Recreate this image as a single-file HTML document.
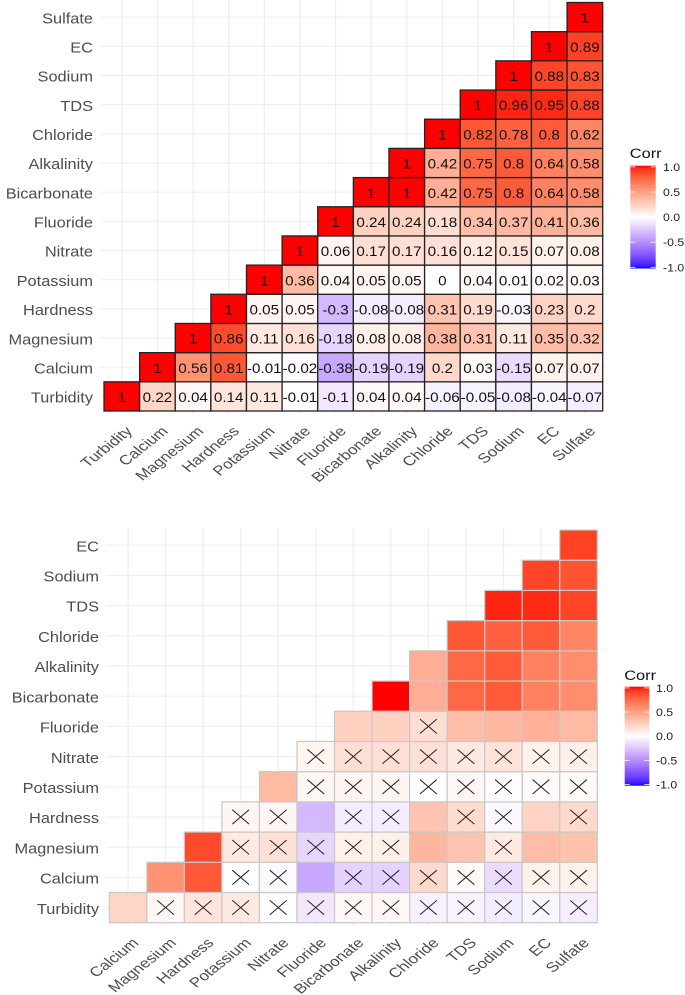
<!DOCTYPE html>
<html lang="en">
<head>
<meta charset="utf-8">
<title>Correlation heatmaps</title>
<style>
html,body{margin:0;padding:0;background:#fff;}
svg{display:block;filter:blur(0.35px);}
text{font-family:"Liberation Sans",sans-serif;}
</style>
</head>
<body>
<svg id="chart" xmlns="http://www.w3.org/2000/svg" width="685" height="995" viewBox="0 0 685 995">
<defs>
<linearGradient id="legend-gradient" x1="0" y1="0" x2="0" y2="1"></linearGradient>
</defs>
</svg>
<script>
// ---- Data ----
const topVariables = ["Turbidity","Calcium","Magnesium","Hardness","Potassium","Nitrate","Fluoride","Bicarbonate","Alkalinity","Chloride","TDS","Sodium","EC","Sulfate"];
const bottomRowVariables = ["Turbidity","Calcium","Magnesium","Hardness","Potassium","Nitrate","Fluoride","Bicarbonate","Alkalinity","Chloride","TDS","Sodium","EC"];
const bottomColVariables = ["Calcium","Magnesium","Hardness","Potassium","Nitrate","Fluoride","Bicarbonate","Alkalinity","Chloride","TDS","Sodium","EC","Sulfate"];
const legendTicks = [1.0,0.5,0.0,-0.5,-1.0];
const legendTickLabels = ["1.0","0.5","0.0","-0.5","-1.0"];

// Upper-triangle correlations: each row starts at its diagonal.
const corrTurbidity = [1,0.22,0.04,0.14,0.11,-0.01,-0.1,0.04,0.04,-0.06,-0.05,-0.08,-0.04,-0.07];
const corrCalcium = [1,0.56,0.81,-0.01,-0.02,-0.38,-0.19,-0.19,0.2,0.03,-0.15,0.07,0.07];
const corrMagnesium = [1,0.86,0.11,0.16,-0.18,0.08,0.08,0.38,0.31,0.11,0.35,0.32];
const corrHardness = [1,0.05,0.05,-0.3,-0.08,-0.08,0.31,0.19,-0.03,0.23,0.2];
const corrPotassium = [1,0.36,0.04,0.05,0.05,0,0.04,0.01,0.02,0.03];
const corrNitrate = [1,0.06,0.17,0.17,0.16,0.12,0.15,0.07,0.08];
const corrFluoride = [1,0.24,0.24,0.18,0.34,0.37,0.41,0.36];
const corrBicarbonate = [1,1,0.42,0.75,0.8,0.64,0.58];
const corrAlkalinity = [1,0.42,0.75,0.8,0.64,0.58];
const corrChloride = [1,0.82,0.78,0.8,0.62];
const corrTDS = [1,0.96,0.95,0.88];
const corrSodium = [1,0.88,0.83];
const corrEC = [1,0.89];
const corrSulfate = [1];
const corrRows = [corrTurbidity,corrCalcium,corrMagnesium,corrHardness,corrPotassium,corrNitrate,corrFluoride,corrBicarbonate,corrAlkalinity,corrChloride,corrTDS,corrSodium,corrEC,corrSulfate];

// Non-significant flags for the lower panel (1 = crossed), off-diagonal cells only.
const insigTurbidity = [0,1,1,1,1,1,1,1,1,1,1,1,1];
const insigCalcium = [0,0,1,1,0,1,1,1,1,1,1,1];
const insigMagnesium = [0,1,1,1,1,1,0,0,1,0,0];
const insigHardness = [1,1,0,1,1,0,1,1,0,1];
const insigPotassium = [0,1,1,1,1,1,1,1,1];
const insigNitrate = [1,1,1,1,1,1,1,1];
const insigFluoride = [0,0,1,0,0,0,0];
const insigBicarbonate = [0,0,0,0,0,0];
const insigAlkalinity = [0,0,0,0,0];
const insigChloride = [0,0,0,0];
const insigTDS = [0,0,0];
const insigSodium = [0,0];
const insigEC = [0];
const insigRows = [insigTurbidity,insigCalcium,insigMagnesium,insigHardness,insigPotassium,insigNitrate,insigFluoride,insigBicarbonate,insigAlkalinity,insigChloride,insigTDS,insigSodium,insigEC];

// ---- Helpers ----
const SVGNS = "http://www.w3.org/2000/svg";
const svg = document.getElementById("chart");

function make(tag, attrs, parent){
  const el = document.createElementNS(SVGNS, tag);
  for (const k in attrs) el.setAttribute(k, attrs[k]);
  parent.appendChild(el);
  return el;
}
function labToRgb(L,a,b){
  const fy=(L+16)/116, fx=fy+a/500, fz=fy-b/200;
  const inv=t=>t*t*t>0.008856?t*t*t:(t-16/116)/7.787;
  const X=0.95047*inv(fx),Y=inv(fy),Z=1.08883*inv(fz);
  const lin=[3.2406*X-1.5372*Y-0.4986*Z,-0.9689*X+1.8758*Y+0.0415*Z,0.0557*X-0.2040*Y+1.0570*Z];
  return "rgb("+lin.map(c=>{
    c=Math.max(0,Math.min(1,c));
    c=c<=0.0031308?12.92*c:1.055*Math.pow(c,1/2.4)-0.055;
    return Math.round(c*255);
  }).join(",")+")";
}
function corrColor(v){
  const t=Math.min(1,Math.abs(v));
  const end=v>=0?[53.24,80.09,67.2]:[32.3,79.19,-107.86];
  return labToRgb(100+(end[0]-100)*t,end[1]*t,end[2]*t);
}
// Gradient stops for the colourbars
const gradientEl = document.getElementById("legend-gradient");
for (let i=0;i<=40;i++){
  const v=1-i/20;
  make("stop",{offset:(i/40),"stop-color":corrColor(v)},gradientEl);
}

function drawAxisText(group,str,x,y,size,fill,anchor,sx,rotate){
  const t=make("text",{
    transform:"translate("+x+","+y+") scale("+sx+",1)"+(rotate?" rotate("+rotate+")":""),
    "font-size":size,fill:fill,"text-anchor":anchor
  },group);
  t.textContent=str;
  return t;
}

function drawLegend(parent,x,y,w,h,titleY,labelX){
  const g=make("g",{},parent);
  
  
  const title=drawAxisText(g,"Corr",x-0.5,titleY,14,"#111","start",1.17);
  
  
  const bar=make("rect",{x:x,y:y,width:w,height:h,fill:"url(#legend-gradient)"},g);
  
  
  const pad=1.2;
  const legY=v=>y+pad+(1-v)/2*(h-2*pad);
  legendTicks.forEach((v,i)=>{
    const ty=legY(v);
    make("line",{x1:x,x2:x+5,y1:ty,y2:ty,stroke:"#fff","stroke-width":0.8},g);
    make("line",{x1:x+w-5,x2:x+w,y1:ty,y2:ty,stroke:"#fff","stroke-width":0.8},g);
    const lab=drawAxisText(g,legendTickLabels[i],labelX,ty+4,11.2,"#222","start",1.1);
    
    
  });
}

function drawPanel(opts){
  const panel=make("g",{},svg);
  
  
  const nx=opts.cols.length, ny=opts.rows.length;
  const cw=(opts.x1-opts.x0)/nx, ch=(opts.y1-opts.y0)/ny;
  const xPos=c=>opts.x0+c*cw;
  const yPos=r=>opts.y1-(r+1)*ch;

  // grid lines and ticks
  const grid=make("g",{stroke:"#f0f0f0","stroke-width":1.3},panel);
  
  
  opts.cols.forEach((_,c)=>{
    const gx=xPos(c)+cw/2;
    make("line",{x1:gx,x2:gx,y1:opts.gridTop,y2:opts.y1+3.5},grid);
  });
  opts.rows.forEach((_,r)=>{
    const gy=yPos(r)+ch/2;
    make("line",{x1:opts.x0-3.5,x2:opts.x1+3.5,y1:gy,y2:gy},grid);
  });

  // cells: row r, column c, upper triangle only
  const cells=make("g",{},panel);
  
  
  opts.rows.forEach((_,r)=>{
    for (let c=opts.start(r);c<nx;c++){
      const v=opts.value(r,c);
      const cell=make("rect",{x:xPos(c),y:yPos(r),width:cw,height:ch,fill:corrColor(v),stroke:opts.border,"stroke-width":opts.borderWidth},cells);
      
      
    }
  });

  // marks
  const marks=make("g",{},panel);
  
  
  opts.rows.forEach((_,r)=>{
    for (let c=opts.start(r);c<nx;c++){
      const cx=xPos(c)+cw/2, cy=yPos(r)+ch/2;
      if (opts.showValues){
        const t=drawAxisText(marks,String(opts.value(r,c)),cx,cy+5.6,13.6,"#111","middle",1.12);
        
        
      } else if (opts.crossed(r,c)){
        const dx=8.4, dy=7.2;
        const m=make("path",{d:"M"+(cx-dx)+" "+(cy-dy)+"L"+(cx+dx)+" "+(cy+dy)+"M"+(cx-dx)+" "+(cy+dy)+"L"+(cx+dx)+" "+(cy-dy),stroke:"#222","stroke-width":1,fill:"none"},marks);
        
        
      }
    }
  });

  // y labels
  const yAxis=make("g",{},panel);
  
  
  opts.rows.forEach((name,r)=>{
    const t=drawAxisText(yAxis,name,opts.yLabelX,yPos(r)+ch/2+6.2,14.6,"#4d4d4d","end",1.12);
    
    
  });

  // x labels
  const xAxis=make("g",{},panel);
  
  
  opts.cols.forEach((name,c)=>{
    const t=drawAxisText(xAxis,name,xPos(c)+cw/2+opts.xLabelDx,opts.y1+opts.xLabelDy,13.5,"#4d4d4d","end",1.26,-45);
    
    
  });
}

// Top panel
drawPanel({
  name:"correlation-values-panel",
  rows:topVariables, cols:topVariables,
  x0:104, x1:602.7, y0:2.5, y1:411, gridTop:0,
  border:"#222", borderWidth:1.3, showValues:true,
  start:r=>r,
  value:(r,c)=>corrRows[r][c-r],
  yLabelX:93, xLabelDx:11.5, xLabelDy:21
});
drawLegend(svg,630.3,165.7,25.4,102.8,158,663);

// Bottom panel: diagonal removed, so column c corresponds to variable c+1
drawPanel({
  name:"correlation-significance-panel",
  rows:bottomRowVariables, cols:bottomColVariables,
  x0:109.3, x1:597.3, y0:530, y1:922.7, gridTop:528,
  border:"#c8c8c8", borderWidth:1.2, showValues:false,
  start:r=>r,
  value:(r,c)=>corrRows[r][c+1-r],
  crossed:(r,c)=>insigRows[r][c-r]===1,
  yLabelX:99, xLabelDx:11.5, xLabelDy:21
});
drawLegend(svg,624.7,686.7,24.6,99,680,656);
</script>
</body>
</html>
